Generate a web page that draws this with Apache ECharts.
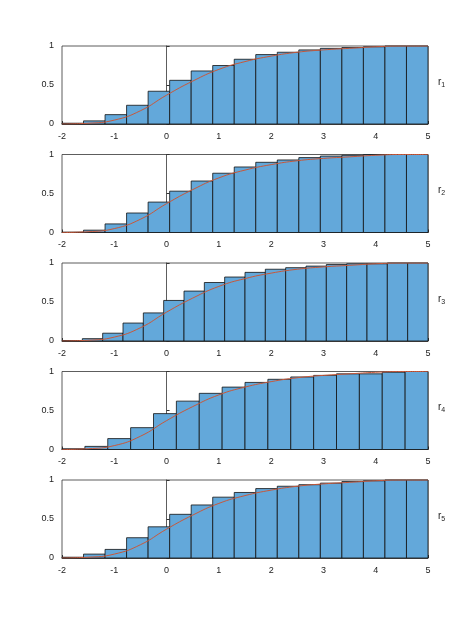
<!DOCTYPE html>
<html>
<head>
<meta charset="utf-8">
<script src="https://cdn.jsdelivr.net/npm/echarts@6/dist/echarts.min.js"></script>
<style>
  html, body { margin: 0; padding: 0; background: #fff; }
  #chart { width: 474px; height: 625px; }
</style>
</head>
<body>
<div id="chart"></div>
<script>
    // cumulative bar heights per panel, bins run from -2 to 5
    var r1 = [0.01, 0.04, 0.12, 0.24, 0.42, 0.56, 0.68, 0.75, 0.83, 0.89, 0.92, 0.95, 0.97, 0.98, 0.99, 1.0, 1.0];
    var r2 = [0.005, 0.03, 0.11, 0.25, 0.39, 0.53, 0.66, 0.76, 0.84, 0.90, 0.93, 0.96, 0.98, 0.99, 1.0, 1.0, 1.0];
    var r3 = [0.005, 0.03, 0.10, 0.23, 0.36, 0.52, 0.64, 0.75, 0.82, 0.88, 0.92, 0.94, 0.96, 0.98, 0.99, 0.99, 1.0, 1.0];
    var r4 = [0.01, 0.04, 0.14, 0.28, 0.46, 0.62, 0.72, 0.80, 0.86, 0.90, 0.93, 0.95, 0.97, 0.97, 0.99, 1.0];
    var r5 = [0.01, 0.05, 0.11, 0.26, 0.40, 0.56, 0.68, 0.78, 0.84, 0.89, 0.92, 0.94, 0.96, 0.98, 0.99, 1.0, 1.0];
    // fitted cdf curve
    var cdfX = [-2, -1.5, -1, -0.5, 0, 0.5, 1, 1.5, 2, 2.5, 3, 3.5, 4, 4.5, 5];
    var cdfY = [0.0, 0.01, 0.05, 0.17, 0.37, 0.55, 0.70, 0.80, 0.87, 0.92, 0.95, 0.97, 0.99, 1.0, 1.0];
    var xMin = -2, xMax = 5;
    var panels = [r1, r2, r3, r4, r5];
    var names = ['1', '2', '3', '4', '5'];

    var chart = echarts.init(document.getElementById('chart'));
    var grids = [], xAxes = [], yAxes = [], series = [], graphics = [];
    var axisText = { color: '#222', fontSize: 9, fontFamily: 'Liberation Sans' };

    panels.forEach(function (vals, i) {
        var top = 46 + i * 108.5;
        grids.push({ left: 62, width: 366, top: top, height: 78, show: true, borderColor: '#333', borderWidth: 0.8 });
        xAxes.push({
            type: 'value', gridIndex: i, min: xMin, max: xMax, interval: 1,
            axisLine: { lineStyle: { color: '#333', width: 0.8 } },
            axisTick: { inside: true, length: 3, lineStyle: { color: '#333' } },
            axisLabel: axisText, splitLine: { show: false }
        });
        yAxes.push({
            type: 'value', gridIndex: i, min: 0, max: 1, interval: 0.5,
            axisLine: { show: true, lineStyle: { color: '#333', width: 0.8 } },
            axisTick: { inside: true, length: 3, lineStyle: { color: '#333' } },
            axisLabel: axisText, splitLine: { show: false }
        });
        var w = (xMax - xMin) / vals.length;
        series.push({
            type: 'custom', xAxisIndex: i, yAxisIndex: i,
            data: vals.map(function (v, k) { return [xMin + k * w, xMin + (k + 1) * w, v]; }),
            renderItem: function (params, api) {
                var p0 = api.coord([api.value(0), api.value(2)]);
                var p1 = api.coord([api.value(1), 0]);
                return {
                    type: 'rect',
                    shape: { x: p0[0], y: p0[1], width: p1[0] - p0[0], height: p1[1] - p0[1] },
                    style: { fill: '#63a8da', stroke: '#111', lineWidth: 0.8 }
                };
            },
            silent: true
        });
        series.push({
            type: 'line', xAxisIndex: i, yAxisIndex: i, smooth: true, symbol: 'none',
            data: cdfX.map(function (x, k) { return [x, cdfY[k]]; }),
            lineStyle: { color: '#c8583a', width: 1 }, silent: true, z: 5
        });
        graphics.push({
            type: 'text', left: 438, top: top + 31,
            style: { text: '{a|r}{b|' + names[i] + '}', rich: {
                a: { fontSize: 10, fontFamily: 'Liberation Sans', fill: '#222' },
                b: { fontSize: 7, fontFamily: 'Liberation Sans', fill: '#222', padding: [6, 0, 0, 0] }
            } }
        });
    });

    chart.setOption({
        animation: false,
        grid: grids, xAxis: xAxes, yAxis: yAxes, series: series, graphic: graphics
    });
</script>
</body>
</html>
